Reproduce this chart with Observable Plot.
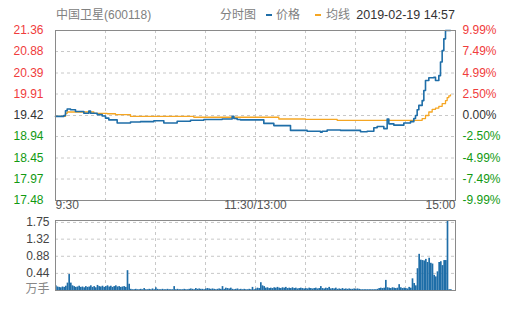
<!DOCTYPE html>
<html><head><meta charset="utf-8">
<script src="https://cdn.jsdelivr.net/npm/d3@7"></script>
<script src="https://cdn.jsdelivr.net/npm/@observablehq/plot@0.6"></script>
<style>
body{margin:0;background:#fff;font-family:"Liberation Sans","Noto Sans CJK SC",sans-serif;}
#wrap{position:relative;width:505px;height:310px;overflow:hidden;background:#fff;}
.h{position:absolute;top:8px;font-size:12px;line-height:14px;white-space:nowrap;color:#808080;}
.dash{position:absolute;top:14px;width:6px;height:2px;}
#main,#vol{position:absolute;left:0;}
#main{top:0;} #vol{top:215px;}
</style></head><body>
<div id="wrap">
  <div class="h" style="left:56px">中国卫星(600118)</div>
  <div class="h" style="left:220px">分时图</div>
  <div class="dash" style="left:266px;background:#1f6ea8"></div>
  <div class="h" style="left:276px">价格</div>
  <div class="dash" style="left:315px;background:#f5a623"></div>
  <div class="h" style="left:326px">均线</div>
  <div class="h" style="right:50px;color:#333;font-size:12.5px">2019-02-19 14:57</div>
  <div id="main"></div>
  <div id="vol"></div>
</div>
<script>
// ---- data ----
const prevClose = 19.42;
const priceTicks = [17.48, 17.97, 18.45, 18.94, 19.42, 19.91, 20.39, 20.88, 21.36];
const pctLabels = ["-9.99%", "-7.49%", "-4.99%", "-2.50%", "0.00%", "2.50%", "4.99%", "7.49%", "9.99%"];
const timeTicks = [0, 120, 240];
const timeLabels = ["9:30", "11:30/13:00", "15:00"];
const gridMinutes = [30, 60, 90, 120, 150, 180, 210];
const volTicks = [0.44, 0.88, 1.32, 1.75];
const volLabels = ["0.44", "0.88", "1.32", "1.75"];

// price (minute index since 9:30, price) — step changes
const priceMin = [0, 5, 6, 7, 9, 12, 17, 20, 21, 25, 28, 30, 32, 37, 45, 51, 59, 65, 73, 81, 89, 100, 106, 107, 109, 111, 124, 125, 131, 141, 151, 159, 160, 163, 171, 183, 187, 191, 193, 197, 199, 200, 203, 209, 213, 215, 216, 217, 218, 220, 221, 222, 224, 227, 228, 230, 231, 232, 233, 234, 237];
const priceVal = [19.40, 19.42, 19.53, 19.57, 19.55, 19.51, 19.47, 19.52, 19.47, 19.44, 19.41, 19.36, 19.32, 19.25, 19.27, 19.28, 19.30, 19.25, 19.29, 19.31, 19.33, 19.34, 19.40, 19.35, 19.33, 19.32, 19.32, 19.24, 19.19, 19.08, 19.06, 19.04, 19.06, 19.09, 19.08, 19.05, 19.06, 19.14, 19.17, 19.12, 19.34, 19.23, 19.20, 19.25, 19.28, 19.35, 19.42, 19.55, 19.65, 19.76, 19.99, 20.22, 20.28, 20.29, 20.22, 20.33, 20.64, 20.90, 21.17, 21.36, 21.36];

// average price line
const avgMin = [0, 6, 7, 23, 31, 36, 45, 83, 134, 150, 169, 218, 220, 222, 224, 226, 228, 230, 232, 234, 235, 236, 237];
const avgVal = [19.40, 19.47, 19.50, 19.47, 19.46, 19.44, 19.40, 19.38, 19.34, 19.33, 19.31, 19.31, 19.35, 19.42, 19.50, 19.56, 19.59, 19.63, 19.69, 19.76, 19.83, 19.87, 19.89];

// volume per minute (万手)
const vol = [
  0.12,0.09,0.08,0.07,0.09,0.08,0.11,0.19,0.41,0.19,
  0.12,0.10,0.08,0.09,0.11,0.08,0.09,0.07,0.10,0.08,
  0.09,0.12,0.08,0.10,0.07,0.13,0.10,0.09,0.11,0.08,
  0.10,0.12,0.09,0.11,0.08,0.10,0.12,0.09,0.10,0.08,
  0.09,0.10,0.08,0.51,0.16,0.03,0.02,0.02,0.03,0.02,
  0.02,0.03,0.02,0.05,0.02,0.02,0.03,0.02,0.04,0.02,
  0.07,0.03,0.02,0.02,0.03,0.02,0.02,0.03,0.02,0.02,
  0.02,0.10,0.02,0.03,0.02,0.02,0.02,0.03,0.02,0.02,
  0.03,0.04,0.03,0.02,0.05,0.03,0.04,0.03,0.03,0.02,
  0.04,0.05,0.04,0.03,0.04,0.03,0.02,0.03,0.04,0.03,
  0.10,0.03,0.06,0.05,0.04,0.06,0.03,0.02,0.03,0.04,
  0.02,0.03,0.02,0.03,0.02,0.02,0.03,0.02,0.08,0.02,
  0.04,0.06,0.05,0.20,0.12,0.10,0.06,0.07,0.05,0.06,
  0.05,0.07,0.06,0.08,0.06,0.05,0.07,0.06,0.08,0.05,
  0.06,0.05,0.07,0.05,0.06,0.04,0.05,0.06,0.05,0.04,
  0.05,0.04,0.06,0.05,0.04,0.05,0.06,0.04,0.05,0.10,
  0.05,0.04,0.06,0.05,0.08,0.04,0.05,0.04,0.06,0.03,
  0.04,0.03,0.05,0.03,0.04,0.03,0.04,0.03,0.03,0.04,
  0.03,0.04,0.03,0.02,0.02,0.02,0.02,0.02,0.02,0.02,
  0.02,0.02,0.02,0.03,0.05,0.06,0.05,0.06,0.26,0.07,
  0.06,0.05,0.07,0.06,0.05,0.06,0.15,0.07,0.05,0.06,
  0.05,0.04,0.08,0.06,0.30,0.18,0.12,0.56,0.93,0.78,
  0.77,0.76,0.80,0.72,0.83,0.70,0.68,0.39,0.35,0.48,
  0.72,0.74,0.64,0.77,0.77,1.78,0.02,0.02
];

// ---- styles ----
const BLUE = "#1f6ea8", ORANGE = "#f5a623", RED = "#f03c3c", GREEN = "#129a12", DARK = "#333";
const FONT = "'Liberation Sans','Noto Sans CJK SC',sans-serif";
const grid = {stroke: "#c8c8c8", strokeOpacity: 1, strokeDasharray: "3,3", strokeWidth: 1};

const priceData = priceMin.map((m, i) => ({m, p: priceVal[i]}));
const avgData = avgMin.map((m, i) => ({m, p: avgVal[i]}));
const tickData = priceTicks.map((v, i) => ({v, t: v.toFixed(2), pct: pctLabels[i], s: Math.sign(Math.round((v - prevClose) * 100))}));
const colorOf = s => s > 0 ? RED : s < 0 ? GREEN : DARK;

const labelMarks = [];
for (const s of [1, 0, -1]) {
  const d = tickData.filter(e => e.s === s);
  labelMarks.push(Plot.text(d, {y: "v", text: "t", frameAnchor: "left", dx: -12, textAnchor: "end", fill: colorOf(s), fontSize: 12}));
  labelMarks.push(Plot.text(d, {y: "v", text: "pct", frameAnchor: "right", dx: 7, textAnchor: "start", fill: colorOf(s), fontSize: 12}));
}
const anchors = ["start", "middle", "end"];
const timeMarks = timeTicks.map((t, i) => Plot.text([t], {x: d => d, text: () => timeLabels[i], frameAnchor: "bottom", dy: 8, textAnchor: anchors[i], fill: "#555", fontSize: 12}));

const main = Plot.plot({
  width: 505, height: 215,
  marginLeft: 55, marginRight: 50, marginTop: 30, marginBottom: 15,
  x: {domain: [0, 240], axis: null},
  y: {domain: [priceTicks[0], priceTicks[priceTicks.length - 1]], axis: null},
  style: {fontFamily: FONT, background: "transparent", overflow: "visible"},
  marks: [
    Plot.ruleX(gridMinutes, {x: d => d, ...grid}),
    Plot.ruleY(priceTicks.slice(1, -1), {y: d => d, ...grid}),
    Plot.line(avgData, {x: "m", y: "p", stroke: ORANGE, strokeWidth: 1.3, curve: "step-after"}),
    Plot.line(priceData, {x: "m", y: "p", stroke: BLUE, strokeWidth: 1.6, curve: "step-after"}),
    Plot.frame({stroke: "#8a8a8a"}),
    ...labelMarks,
    ...timeMarks
  ]
});
document.getElementById("main").appendChild(main);

const volPlot = Plot.plot({
  width: 505, height: 95,
  marginLeft: 55, marginRight: 50, marginTop: 5, marginBottom: 20,
  x: {domain: [0, 240], axis: null},
  y: {domain: [0, 1.8], axis: null},
  style: {fontFamily: FONT, background: "transparent", overflow: "visible"},
  marks: [
    Plot.ruleX(gridMinutes, {x: d => d, ...grid}),
    Plot.ruleY(volTicks, {y: d => d, ...grid}),
    Plot.rect(vol, {x1: (d, i) => i, x2: (d, i) => i + 1, y1: () => 0, y2: d => d, fill: BLUE}),
    Plot.frame({stroke: "#8a8a8a"}),
    Plot.text(volTicks, {y: d => d, text: (d, i) => volLabels[i], frameAnchor: "left", dx: -6, textAnchor: "end", fill: "#444", fontSize: 12}),
    Plot.text(["万手"], {text: d => d, frameAnchor: "bottom-left", dx: -6, dy: 2, textAnchor: "end", fill: "#888", fontSize: 12})
  ]
});
document.getElementById("vol").appendChild(volPlot);
</script>
</body></html>
